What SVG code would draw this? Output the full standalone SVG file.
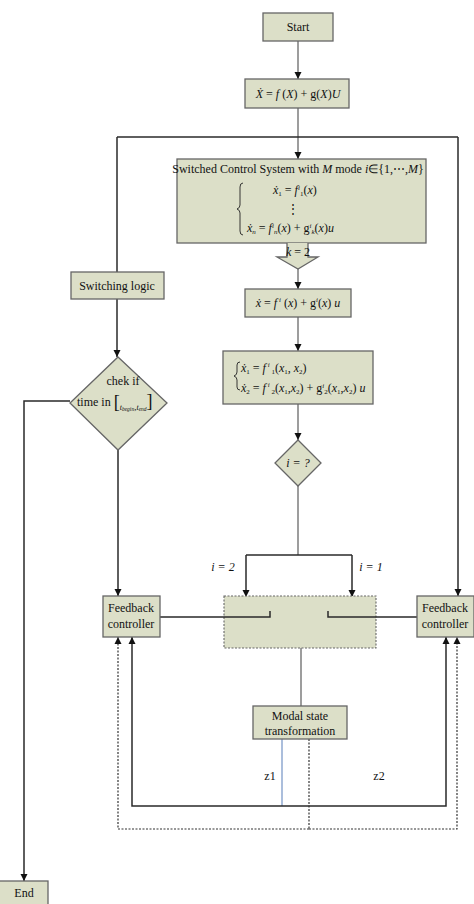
<svg xmlns="http://www.w3.org/2000/svg" width="474" height="904" viewBox="0 0 474 904">
<style>
.box{fill:#dcdfc8;stroke:#666;stroke-width:1.3}
.t{font-family:"Liberation Serif","Times New Roman",serif;font-size:12px;fill:#111}
.c{text-anchor:middle}
.i{font-style:italic}
.g{fill:none;stroke:#858585;stroke-width:1.6}
.k{fill:none;stroke:#2a2a2a;stroke-width:1.5}
.d{fill:none;stroke:#333;stroke-width:1.2;stroke-dasharray:2 1.5}
.b{fill:none;stroke:#8fa8d0;stroke-width:1.5}
</style>
<defs>
<marker id="a" viewBox="0 0 10 10" refX="10" refY="5" markerWidth="7" markerHeight="9" markerUnits="userSpaceOnUse" orient="auto">
<path d="M0 0L10 5L0 10z" fill="#111"/>
</marker>
</defs>

<g id="connectors">
<path class="g" d="M298 41V79" marker-end="url(#a)"/>
<path class="g" d="M298 108V159" marker-end="url(#a)"/>
<path class="k" d="M117 137H458"/>
<path class="k" d="M117 137V272"/>
<path class="k" d="M458 137V596" marker-end="url(#a)"/>
<path class="g" d="M298 269V289" marker-end="url(#a)"/>
<path class="g" d="M298 317V351" marker-end="url(#a)"/>
<path class="g" d="M298 404V440" marker-end="url(#a)"/>
<path class="g" d="M298 485V555"/>
<path class="k" d="M246 555H352"/>
<path class="k" d="M246 555V597" marker-end="url(#a)"/>
<path class="k" d="M352 555V597" marker-end="url(#a)"/>
<path class="k" d="M117 299V357" marker-end="url(#a)"/>
<path class="k" d="M118 450V596" marker-end="url(#a)"/>
<path class="k" d="M70 401H24V881" marker-end="url(#a)"/>
<path class="g" d="M301 648V706"/>
<path class="b" d="M282 739V806"/>
<path class="k" d="M282 806H132V637" marker-end="url(#a)"/>
<path class="k" d="M282 806H446V637" marker-end="url(#a)"/>
<path class="d" d="M309 739V829"/>
<path class="d" d="M309 829H118V637" marker-end="url(#a)"/>
<path class="d" d="M309 829H457V637" marker-end="url(#a)"/>
</g>

<g id="start">
<rect class="box" x="263" y="13" width="70" height="28"/>
<text class="t c" x="298" y="31">Start</text>
</g>

<g id="system">
<rect class="box" x="245" y="79" width="104" height="29"/>
<text class="t c" x="298" y="98"><tspan class="i">Ẋ</tspan> = <tspan class="i">f</tspan> (<tspan class="i">X</tspan>) + g(<tspan class="i">X</tspan>)<tspan class="i">U</tspan></text>
</g>

<g id="switched">
<rect class="box" x="177" y="159" width="249" height="84"/>
<text class="t c" x="298" y="173" font-size="11">Switched Control System with <tspan class="i">M</tspan> mode <tspan class="i">i</tspan>∈{1,⋯,<tspan class="i">M</tspan>}</text>
<text class="t" x="273" y="194" font-size="11.5"><tspan class="i">ẋ</tspan><tspan font-size="7" dy="2">1</tspan><tspan dy="-2"> = </tspan><tspan class="i">f</tspan><tspan font-size="7" dy="-4" class="i">i</tspan><tspan font-size="7" dy="6">1</tspan><tspan dy="-2">(</tspan><tspan class="i">x</tspan>)</text>
<text class="t" x="287" y="213" font-size="11.5">⋮</text>
<text class="t" x="247" y="232" font-size="11.5"><tspan class="i">ẋ</tspan><tspan font-size="7" dy="2" class="i">n</tspan><tspan dy="-2"> = </tspan><tspan class="i">f</tspan><tspan font-size="7" dy="-4" class="i">i</tspan><tspan font-size="7" dy="6" class="i">n</tspan><tspan dy="-2">(</tspan><tspan class="i">x</tspan>) + g<tspan font-size="7" dy="-4" class="i">i</tspan><tspan font-size="7" dy="6" class="i">k</tspan><tspan dy="-2">(</tspan><tspan class="i">x</tspan>)<tspan class="i">u</tspan></text>
<path d="M243 183Q240 183 240 187V205Q240 208 237 209Q240 210 240 213V231Q240 235 243 235" fill="none" stroke="#222" stroke-width="0.9"/>
</g>

<g id="k2">
<path class="box" d="M287 243V257H277L298 269L318 257H308V243"/>
<text class="t c" x="298" y="256" font-size="11"><tspan class="i">k</tspan> = 2</text>
</g>

<g id="mode">
<rect class="box" x="245" y="289" width="106" height="28"/>
<text class="t c" x="298" y="307"><tspan class="i">ẋ</tspan> = <tspan class="i">f</tspan><tspan font-size="7" dy="-5" class="i"> i</tspan><tspan dy="5"> (</tspan><tspan class="i">x</tspan>) + g<tspan font-size="7" dy="-5" class="i">i</tspan><tspan dy="5">(</tspan><tspan class="i">x</tspan>) <tspan class="i">u</tspan></text>
</g>

<g id="mode2">
<rect class="box" x="223" y="351" width="150" height="53"/>
<path d="M240 362Q237 362 237 365V372Q237 375 234 376Q237 377 237 380V387Q237 390 240 390" fill="none" stroke="#222" stroke-width="0.9"/>
<text class="t" x="241" y="372" font-size="11.5"><tspan class="i">ẋ</tspan><tspan font-size="7" dy="2">1</tspan><tspan dy="-2"> = </tspan><tspan class="i">f</tspan><tspan font-size="7" dy="-5" class="i"> i</tspan><tspan font-size="7" dy="7"> 1</tspan><tspan dy="-2">(</tspan><tspan class="i">x</tspan><tspan font-size="7" dy="2">1</tspan><tspan dy="-2">, </tspan><tspan class="i">x</tspan><tspan font-size="7" dy="2">2</tspan><tspan dy="-2">)</tspan></text>
<text class="t" x="241" y="392" font-size="11.5"><tspan class="i">ẋ</tspan><tspan font-size="7" dy="2">2</tspan><tspan dy="-2"> = </tspan><tspan class="i">f</tspan><tspan font-size="7" dy="-5" class="i"> i</tspan><tspan font-size="7" dy="7"> 2</tspan><tspan dy="-2">(</tspan><tspan class="i">x</tspan><tspan font-size="7" dy="2">1</tspan><tspan dy="-2">,</tspan><tspan class="i">x</tspan><tspan font-size="7" dy="2">2</tspan><tspan dy="-2">) + g</tspan><tspan font-size="7" dy="-4" class="i">i</tspan><tspan font-size="7" dy="6">2</tspan><tspan dy="-2">(</tspan><tspan class="i">x</tspan><tspan font-size="7" dy="2">1</tspan><tspan dy="-2">,</tspan><tspan class="i">x</tspan><tspan font-size="7" dy="2">2</tspan><tspan dy="-2">) </tspan><tspan class="i">u</tspan></text>
</g>

<g id="decision">
<path class="box" d="M298 440L321 463L298 486L275 463Z"/>
<text class="t c i" x="298" y="467" font-size="11">i = ?</text>
</g>

<g id="labels">
<text class="t c i" x="223" y="571" font-size="14">i = 2</text>
<text class="t c i" x="371" y="571" font-size="14">i = 1</text>
<text class="t c" x="270" y="780">z1</text>
<text class="t c" x="379" y="780">z2</text>
</g>

<g id="switching-logic">
<rect class="box" x="71" y="272" width="93" height="27"/>
<text class="t c" x="117" y="290">Switching logic</text>
</g>

<g id="check">
<path class="box" d="M118 357L167 403L118 450L70 403Z"/>
<text class="t c" x="123" y="385">chek if</text>
<text class="t" x="77" y="406">time  in <tspan font-size="18" dy="2">[</tspan><tspan class="i" font-size="8" dy="2">t</tspan><tspan class="i" font-size="5.5" dy="1">begin</tspan><tspan font-size="9" dy="-1">,</tspan><tspan class="i" font-size="8">t</tspan><tspan class="i" font-size="5.5" dy="1">end</tspan><tspan font-size="18" dy="-4">]</tspan></text>
</g>

<g id="switch">
<rect x="224" y="596" width="152" height="52" fill="#dcdfc8" stroke="#666" stroke-width="1.1" stroke-dasharray="2 1.5"/>
<path class="k" d="M160 617H270V611"/>
<path class="k" d="M418 617H328V611"/>
</g>

<g id="fb-left">
<rect class="box" x="103" y="596" width="57" height="41"/>
<text class="t c" x="131" y="612">Feedback</text>
<text class="t c" x="131" y="628">controller</text>
</g>

<g id="fb-right">
<rect class="box" x="417" y="596" width="57" height="41"/>
<text class="t c" x="445" y="612">Feedback</text>
<text class="t c" x="445" y="628">controller</text>
</g>

<g id="modal">
<rect class="box" x="253" y="706" width="94" height="33"/>
<text class="t c" x="300" y="720">Modal state</text>
<text class="t c" x="300" y="735">transformation</text>
</g>

<g id="end">
<rect class="box" x="-1" y="881" width="49" height="25"/>
<text class="t c" x="24" y="897">End</text>
</g>
</svg>
